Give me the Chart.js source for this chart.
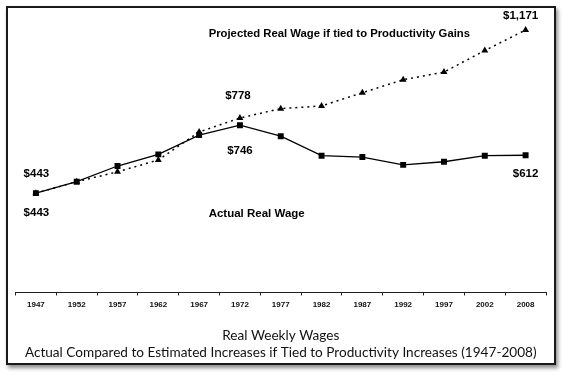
<!DOCTYPE html>
<html>
<head>
<meta charset="utf-8">
<script src="https://cdn.jsdelivr.net/npm/chart.js@4/dist/chart.umd.min.js"></script>
<style>
  html, body { margin: 0; padding: 0; background: #fff; }
  #wrap { position: relative; width: 562px; height: 375px; }
  #frame { position: absolute; left: 6px; top: 6px; width: 546px; height: 355px;
           border: 2px solid #1a1a1a; box-shadow: 2px 3px 4px rgba(0,0,0,0.45); background: #fff; }
  #c { position: absolute; left: 0; top: 0; }
</style>
</head>
<body>
<div id="wrap">
  <div id="frame"></div>
  <canvas id="c" width="562" height="375"></canvas>
</div>
<script>
const years = ['1947','1952','1957','1962','1967','1972','1977','1982','1987','1992','1997','2002','2008'];
const actualWage = [443, 494, 564, 616, 702, 746, 697, 610, 604, 569, 583, 610, 612];
const projectedWage = [443, 494, 538, 591, 716, 778, 820, 832, 891, 949, 983, 1079, 1171];
const titleLines = ['Real Weekly Wages', 'Actual Compared to Estimated Increases if Tied to Productivity Increases (1947-2008)'];

const labelFont = 'bold 11.5px "Liberation Sans", Arial, sans-serif';

const annotate = {
  id: 'annotate',
  afterDatasetsDraw(chart) {
    const ctx = chart.ctx, xs = chart.scales.x, ys = chart.scales.y;
    const X = i => xs.getPixelForValue(i);
    const Ya = i => ys.getPixelForValue(actualWage[i]);
    const Yp = i => ys.getPixelForValue(projectedWage[i]);
    const last = years.length - 1;
    const money = v => '$' + v.toLocaleString('en-US');
    ctx.save();
    ctx.fillStyle = '#000';
    ctx.textBaseline = 'middle';
    ctx.font = labelFont;
    ctx.textAlign = 'center';
    ctx.fillText(money(projectedWage[0]), X(0) + 0.5, Yp(0) - 19.5);
    ctx.fillText(money(actualWage[0]), X(0) + 0.5, Ya(0) + 20);
    ctx.fillText(money(projectedWage[5]), X(5) - 2, Yp(5) - 22);
    ctx.fillText(money(actualWage[5]), X(5), Ya(5) + 25.5);
    ctx.fillText(money(actualWage[last]), X(last), Ya(last) + 19);
    ctx.fillText(money(projectedWage[last]), X(last) - 5, Yp(last) - 14);
    ctx.textAlign = 'left';
    ctx.font = 'bold 11.3px "Liberation Sans", Arial, sans-serif';
    ctx.fillText('Projected Real Wage if tied to Productivity Gains', X(4) + 9.5, Yp(last) + 4);
    ctx.font = labelFont;
    ctx.fillText('Actual Real Wage', X(4) + 9.5, Ya(0) + 21);
    ctx.restore();
  }
};

new Chart(document.getElementById('c'), {
  type: 'line',
  data: {
    labels: years,
    datasets: [
      {
        label: 'Projected Real Wage if tied to Productivity Gains',
        data: projectedWage,
        borderColor: '#000',
        backgroundColor: '#000',
        borderWidth: 1.5,
        borderDash: [2, 4],
        pointStyle: 'triangle',
        pointRadius: 4,
        pointBorderWidth: 0,
        tension: 0
      },
      {
        label: 'Actual Real Wage',
        data: actualWage,
        borderColor: '#000',
        backgroundColor: '#000',
        borderWidth: 1.3,
        pointStyle: 'rect',
        pointRadius: 4.2,
        pointBorderWidth: 0,
        tension: 0
      }
    ]
  },
  options: {
    responsive: false,
    animation: false,
    devicePixelRatio: 1,
    layout: { padding: { left: 15.5, right: 16, top: 10, bottom: 14.5 } },
    scales: {
      x: {
        type: 'category',
        offset: true,
        grid: { display: true, offset: true, drawOnChartArea: false, drawTicks: true, tickLength: 3, color: '#222', lineWidth: 1 },
        border: { display: true, color: '#222', width: 1 },
        ticks: {
          color: '#111',
          padding: 5,
          maxRotation: 0,
          autoSkip: false,
          font: { family: '"Liberation Sans", Arial, sans-serif', size: 8, weight: 'bold' }
        }
      },
      y: {
        display: false,
        min: 0,
        max: 1260
      }
    },
    plugins: {
      legend: { display: false },
      tooltip: { enabled: false },
      title: {
        display: true,
        position: 'bottom',
        text: titleLines,
        color: '#111',
        font: { family: 'Lato, "Open Sans", sans-serif', size: 13.6, weight: 'normal', lineHeight: 1.23 },
        padding: { top: 12, bottom: 0 }
      }
    }
  },
  plugins: [annotate]
});
</script>
</body>
</html>
